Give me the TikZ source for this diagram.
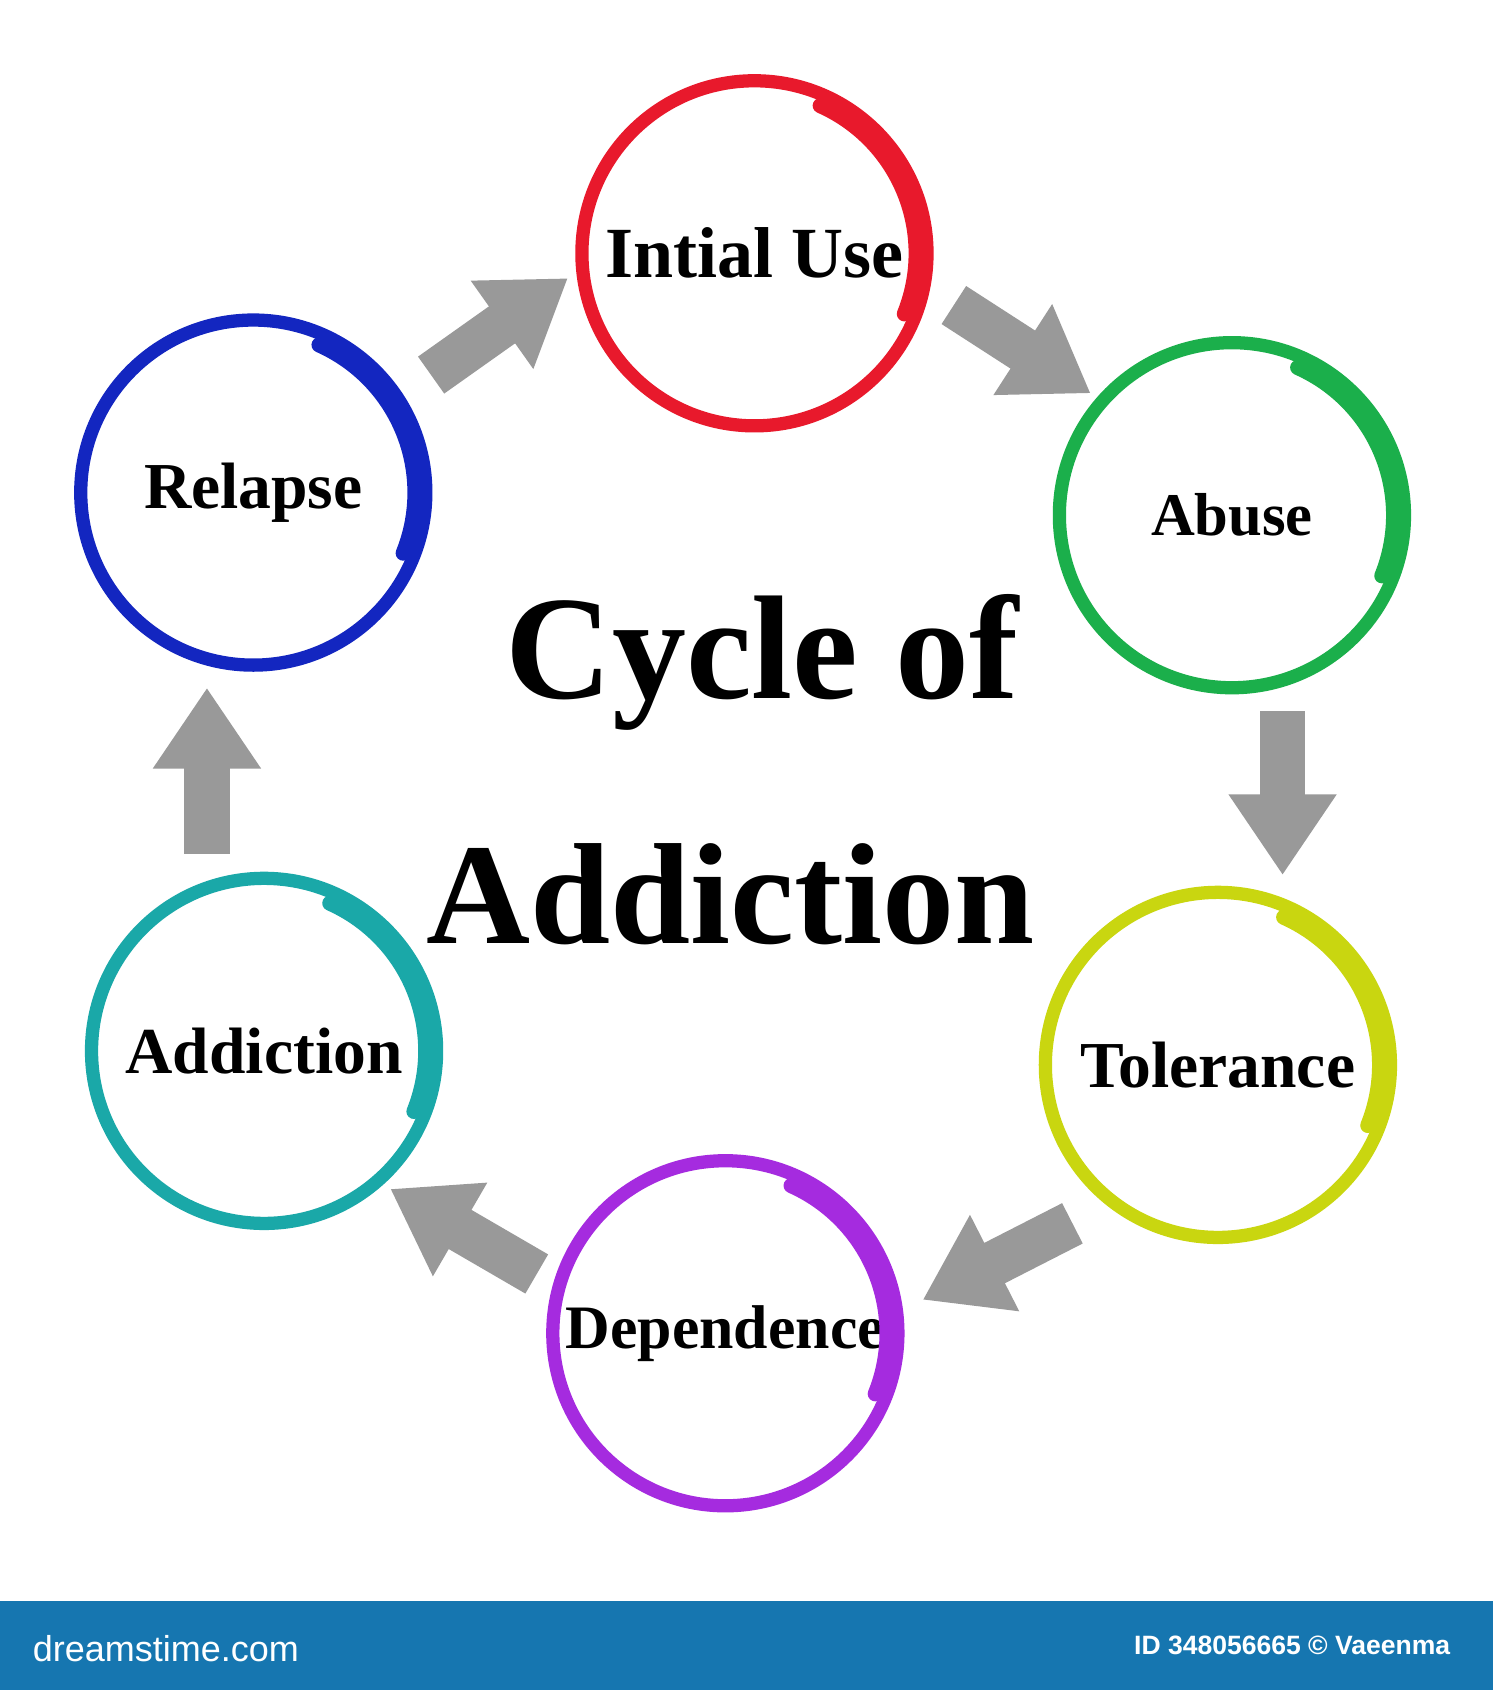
\documentclass[tikz,border=0pt]{standalone}
\usepackage{fontspec}
\setmainfont{Liberation Serif}
\setsansfont{Liberation Sans}
\usetikzlibrary{arrows.meta}
\definecolor{cred}{HTML}{E8192C}
\definecolor{cgreen}{HTML}{1BAF4B}
\definecolor{cyel}{HTML}{C9D610}
\definecolor{cpur}{HTML}{A52BDF}
\definecolor{cteal}{HTML}{1AA8A8}
\definecolor{cblue}{HTML}{1326C0}
\definecolor{band}{HTML}{1676B0}
\definecolor{garr}{HTML}{999999}
\begin{document}
\begin{tikzpicture}[x=0.01cm,y=-0.01cm,
  ring/.style={circle,line width=3.5pt,minimum size=3.2cm,inner sep=0pt},
  blockarrow/.style={draw=garr,line width=0.42cm,-{Triangle[length=0.75cm,width=0.95cm]}}]
\useasboundingbox (0,0) rectangle (1385,1568);
\fill[white] (0,0) rectangle (1385,1568);
\fill[band] (0,1485) rectangle (1385,1568);
\node[white,font=\sffamily\fontsize{9.5}{12}\selectfont,anchor=west] (wm) at (18,1530) {dreamstime.com};
\node[white,font=\sffamily\bfseries\fontsize{7}{9}\selectfont,anchor=east] (id) at (1358,1527) {ID 348056665 © Vaeenma};
\foreach \n/\x/\y/\c/\t/\s in {a/700/235/cred/Intial Use/19,b/1143/478/cgreen/Abuse/16,c/1130/988/cyel/Tolerance/17.3,d/673/1237/cpur/Dependence/16.3,e/245/975/cteal/Addiction/17.3,f/235/457/cblue/Relapse/17.3}{
  \node[ring,draw=\c,font=\bfseries\fontsize{\s}{22}\selectfont] (\n) at (\x,\y) {\t};
  \draw[\c,line width=4pt,line cap=round] (\n.center) ++(-66:150) arc[start angle=-66,end angle=22,radius={150+0}];
}
\node[font=\bfseries\fontsize{39}{46}\selectfont] (t1) at (707,615) {Cycle of};
\node[font=\bfseries\fontsize{38}{46}\selectfont] (t2) at (678,830) {Addiction};
\coordinate (p1) at (400,348); \coordinate (q1) at (527,258);
\coordinate (p2) at (885,283); \coordinate (q2) at (1012,365);
\coordinate (p3) at (1190,660); \coordinate (q3) at (1190,812);
\coordinate (p4) at (995,1135); \coordinate (q4) at (856,1206);
\coordinate (p5) at (498,1182); \coordinate (q5) at (362,1103);
\coordinate (p6) at (192,792); \coordinate (q6) at (192,638);
\foreach \i in {1,...,6}{\draw[blockarrow] (p\i) -- (q\i);}
\end{tikzpicture}
\end{document}
